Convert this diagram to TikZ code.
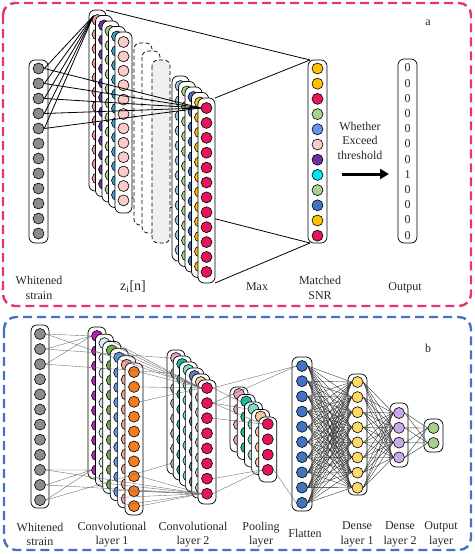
\documentclass[tikz,border=0pt]{standalone}
\usepackage{fontspec}
\setmainfont{Liberation Serif}
\usetikzlibrary{arrows.meta,backgrounds}
\definecolor{panelpink}{RGB}{232,51,110}
\definecolor{panelblue}{RGB}{68,114,196}
\definecolor{ngray}{RGB}{140,140,140}
\definecolor{crimsonx}{RGB}{230,20,90}
\definecolor{goldx}{RGB}{255,192,0}
\definecolor{lgreenx}{RGB}{169,209,142}
\definecolor{cornflx}{RGB}{100,149,230}
\definecolor{lpinkx}{RGB}{248,203,203}
\definecolor{purpx}{RGB}{112,48,160}
\definecolor{cyanxx}{RGB}{0,230,240}
\definecolor{nbluex}{RGB}{68,114,196}
\definecolor{salmonx}{RGB}{226,160,150}
\definecolor{tealblue}{RGB}{60,160,200}
\definecolor{lbluex}{RGB}{157,195,230}
\definecolor{orangexx}{RGB}{245,124,31}
\definecolor{magentaxx}{RGB}{185,30,185}
\definecolor{lcyanx}{RGB}{215,236,248}
\definecolor{greenxx}{RGB}{112,173,71}
\definecolor{rosepink}{RGB}{232,166,166}
\definecolor{pinkxx}{RGB}{228,166,198}
\definecolor{tealxx}{RGB}{32,185,160}
\definecolor{mintx}{RGB}{128,221,192}
\definecolor{slatex}{RGB}{100,130,175}
\definecolor{peachx}{RGB}{245,200,165}
\definecolor{dgoldx}{RGB}{255,217,102}
\definecolor{lavx}{RGB}{201,169,233}
\tikzset{
 neuron/.style={circle,draw=black,line width=0.6pt,inner sep=0pt,minimum size=11pt},
 layerbox/.style={draw=black,fill=white,line width=0.7pt,rounded corners=6pt},
 ghostbox/.style={draw=black,fill=white,line width=0.7pt,rounded corners=6pt,dash pattern=on 4pt off 2.5pt},
 link/.style={black,line width=0.8pt},
 thinlink/.style={black!60,line width=0.35pt},
 denselink/.style={black!85,line width=0.35pt},
 lbl/.style={font=\fontsize{12}{14.5}\selectfont,align=center,text=black!85},
 panelbox/.style={line width=2.4pt,dash pattern=on 9pt off 5pt,rounded corners=12pt},
}
\newcommand\drawlayer[9]{%
  \draw[layerbox] (#1,#2) rectangle ++(#3,#4);
  \coordinate (#9-tl) at (#1,#2);
  \coordinate (#9-tr) at ({#1+#3},#2);
  \coordinate (#9-bl) at (#1,{#2+#4});
  \coordinate (#9-br) at ({#1+#3},{#2+#4});
  \pgfmathtruncatemacro\nlast{#5-1}%
  \foreach \k in {0,...,\nlast}{%
    \node[neuron,fill=#8] (#9-\k) at ({#1+#3/2},{#2+#7+#6*\k}) {};
  }%
}
\begin{document}
\begin{tikzpicture}[x=1pt,y=-1pt]
\useasboundingbox (0,0) rectangle (474,554);
% panels
\draw[panelbox,draw=panelpink] (3,3) rectangle (471,306);
\draw[panelbox,draw=panelblue] (4,317) rectangle (471,550);

% ================= TOP PANEL =================
\drawlayer{29}{60}{19}{183}{12}{15}{8.5}{ngray}{tw}
\foreach \i/\c in {0/salmonx,1/purpx,2/lgreenx,3/tealblue,4/lpinkx}{
  \drawlayer{89+6.5*\i}{10+5.5*\i}{17}{181}{12}{14.4}{10}{\c}{ta-\i}
}
\draw[ghostbox] (134,43) rectangle ++(18,182);
\draw[ghostbox] (142,51) rectangle ++(18,182);
\draw[ghostbox,fill=black!6] (152,60) rectangle ++(18,183);
\foreach \i/\c in {0/lbluex,1/lgreenx,2/nbluex,3/goldx,4/crimsonx}{
  \drawlayer{172+6.5*\i}{76+5.5*\i}{17}{185}{12}{14.9}{10}{\c}{tb-\i}
}
% matched SNR
\draw[layerbox] (308,60) rectangle ++(19,183);
\coordinate (snr-tl) at (310,60);
\coordinate (snr-bl) at (310,243);
\foreach \k/\c in {0/goldx,1/goldx,2/crimsonx,3/lgreenx,4/cornflx,5/lpinkx,6/purpx,7/cyanxx,8/lgreenx,9/nbluex,10/goldx,11/crimsonx}{
  \node[neuron,fill=\c] (snr-\k) at (317.5,{68.5+15.2*\k}) {};
}
% output vector
\draw[layerbox] (398,59) rectangle ++(19,184);
\foreach \k/\v in {0/0,1/0,2/0,3/0,4/0,5/0,6/0,7/1,8/0,9/0,10/0,11/0}{
  \node[lbl,inner sep=0pt] (out-\k) at (407.5,{68+15.2*\k}) {\v};
}
\node[lbl] (wet) at (360,140.5) {Whether\\Exceed\\threshold};
\coordinate (arrS) at (342,174);
\coordinate (arrE) at (389,174);
\draw[line width=3pt,-{Triangle[length=9pt,width=10pt]}] (arrS) -- (arrE);
% lines from whitened strain
\foreach \k in {0,...,4}{
  \draw[link] (tw-\k.east) -- (ta-0-0.north west);
  \draw[link] (tw-\k.east) -- (tb-4-0.west);
}
% labels
\node[lbl] (la1) at (39,288) {Whitened\\strain};
\node[lbl,font=\fontsize{14}{16}\selectfont] (la2) at (133,287) {z\textsubscript{i}[n]};
\node[lbl] (la3) at (257,287) {Max};
\node[lbl] (la4) at (320,288) {Matched\\SNR};
\node[lbl] (la5) at (405,288) {Output};
\node[lbl] (la6) at (428,23) {a};

% ================= BOTTOM PANEL =================
\drawlayer{31}{325}{18}{183}{12}{15.1}{9}{ngray}{bw}
\foreach \i/\c in {0/magentaxx,1/lcyanx,2/greenxx,3/cornflx,4/rosepink,5/orangexx}{
  \drawlayer{88+7.4*\i}{327+7.2*\i}{18}{152}{10}{14.9}{9}{\c}{ca-\i}
}
\foreach \i/\c in {0/pinkxx,1/tealxx,2/mintx,3/slatex,4/peachx,5/crimsonx}{
  \drawlayer{167+6.2*\i}{350+6*\i}{18}{124}{8}{15.1}{8}{\c}{cb-\i}
}
\foreach \i/\c in {0/pinkxx,1/tealxx,2/mintx,3/peachx,4/crimsonx}{
  \drawlayer{230+7.2*\i}{387+7.5*\i}{18}{65}{4}{15.3}{7}{\c}{pl-\i}
}
\drawlayer{292}{357}{20}{154}{10}{15.2}{9}{nbluex}{fl}
\drawlayer{348}{374}{19}{121}{8}{15.1}{8}{dgoldx}{da}
\drawlayer{390}{403}{18}{64}{4}{14.8}{10}{lavx}{db}
\drawlayer{424}{419}{19}{33}{2}{15}{9}{lgreenx}{ot}
% dense connections
\foreach \a in {0,...,9}{\foreach \b in {0,...,7}{\draw[denselink] (fl-\a.east) -- (da-\b.west);}}
\foreach \a in {0,...,7}{\foreach \b in {0,...,3}{\draw[denselink] (da-\a.east) -- (db-\b.west);}}
\foreach \a in {0,...,3}{\foreach \b in {0,1}{\draw[denselink] (db-\a.east) -- (ot-\b.west);}}
% conv connections
\foreach \k in {0,1,2}{\draw[thinlink] (bw-\k.east) -- (ca-0-0.west);}
\foreach \k in {9,10,11}{\draw[thinlink] (bw-\k.east) -- (ca-0-9.west);}
\draw[thinlink] (bw-0.east) -- (cb-5-0.west);
\draw[thinlink] (bw-2.east) -- (cb-0-1.west);
\draw[thinlink] (bw-1.east) -- (cb-0-0.west);
\draw[thinlink] (bw-9.east) -- (cb-5-7.west);
\draw[thinlink] (bw-11.east) -- (cb-0-7.west);
\draw[thinlink] (bw-10.east) -- (cb-5-7.west);
\foreach \i in {1,...,4}{
  \draw[thinlink] (ca-\i-0.north) -- (cb-5-0.west);
  \draw[thinlink] (ca-\i-9.south) -- (cb-5-7.west);
}
\foreach \k in {0,1,2}{\draw[thinlink] (ca-5-\k.east) -- (cb-5-0.west);}
\foreach \k in {7,8,9}{\draw[thinlink] (ca-5-\k.east) -- (cb-5-7.west);}
\draw[thinlink] (cb-5-0.east) -- (pl-1-0.west);
\draw[thinlink] (cb-5-1.east) -- (pl-2-0.west);
\draw[thinlink] (cb-5-1.east) -- (pl-4-0.west);
\draw[thinlink] (cb-5-2.east) -- (pl-4-0.west);
\draw[thinlink] (cb-5-6.east) -- (pl-4-3.west);
\draw[thinlink] (cb-5-7.east) -- (pl-4-3.west);
\draw[thinlink] (cb-5-0.east) -- (fl-0.west);
\draw[thinlink] (cb-5-1.east) -- (fl-0.west);
\draw[thinlink] (pl-4-3.east) -- (fl-9.west);
% labels
\node[lbl] (lb1) at (40,534.5) {Whitened\\strain};
\node[lbl] (lb2) at (112,534.5) {Convolutional\\layer 1};
\node[lbl] (lb3) at (193,534.5) {Convolutional\\layer 2};
\node[lbl] (lb4) at (261,534.5) {Pooling\\layer};
\node[lbl] (lb5) at (305,533) {Flatten};
\node[lbl] (lb6) at (357,534.5) {Dense\\layer 1};
\node[lbl] (lb7) at (400,534.5) {Dense\\layer 2};
\node[lbl] (lb8) at (441,534.5) {Output\\layer};
\node[lbl] (lb9) at (428,348) {b};

% background pyramid lines (top panel)
\begin{pgfonlayer}{background}
  \draw[link] (ta-0-tr) -- (snr-tl);
  \draw[link] (ta-0-br) -- (snr-bl);
  \draw[link] (tb-4-tr) -- (snr-tl);
  \draw[link] (tb-4-br) -- (snr-bl);
\end{pgfonlayer}
\end{tikzpicture}
\end{document}
